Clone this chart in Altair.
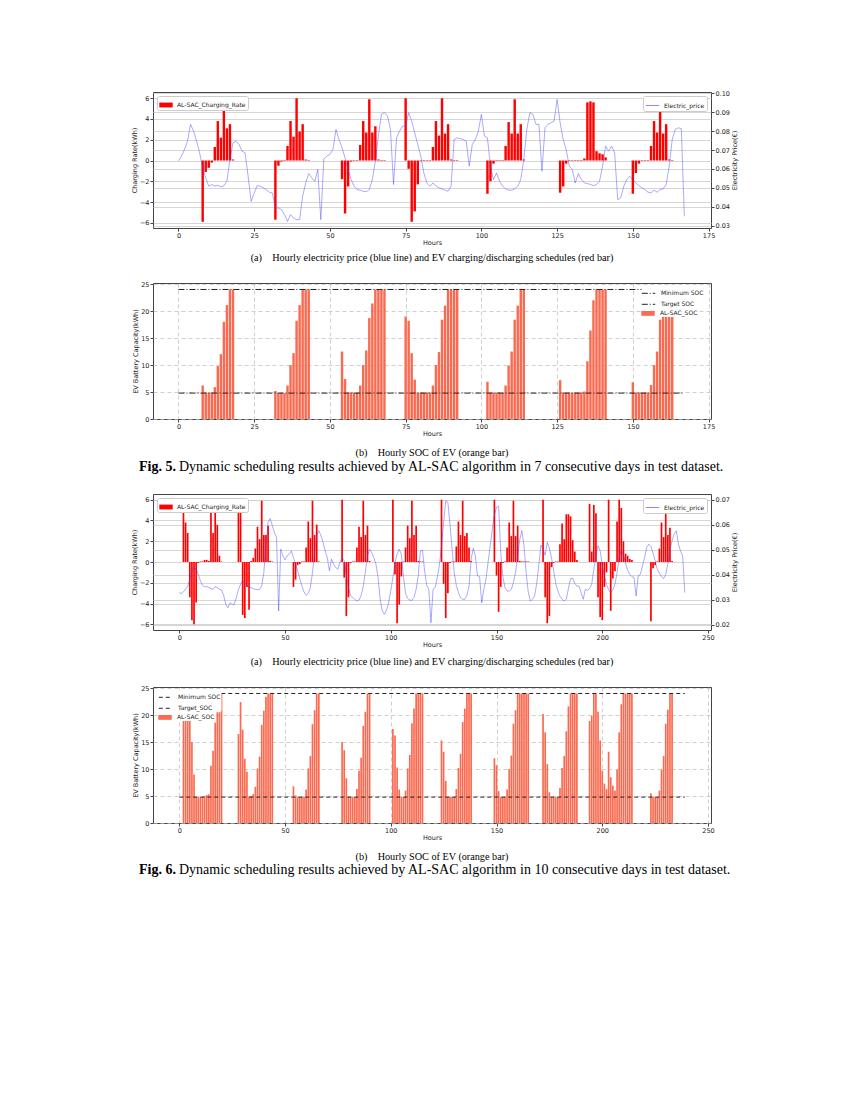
import altair as alt
import pandas as pd

# ---------------- data ----------------
hours_7d = 168
hours_10d = 240
min_soc = 4.8
target_soc = 24.0

# hourly electricity price, 7 days (EUR/kWh)
price_7d = [
    .0643, .0668, .0703, .0747, .0836, .0800, .0747, .0685, .0606, .0553,
    .0509, .0518, .0509, .0514, .0505, .0512, .0535, .0650, .0738, .0747,
    .0730, .0694, .0685, .0562, .0429, .0473, .0512, .0509, .0500, .0491,
    .0477, .0473, .0394, .0394, .0385, .0359, .0323, .0359, .0341, .0332,
    .0332, .0456, .0526, .0576, .0553, .0535, .0597, .0332, .0654, .0668,
    .0677, .0703, .0809, .0756, .0712, .0659, .0597, .0544, .0509, .0491,
    .0488, .0482, .0480, .0491, .0544, .0641, .0774, .0889, .0898, .0880,
    .0809, .0518, .0765, .0800, .0827, .0827, .0898, .0853, .0791, .0730,
    .0668, .0579, .0526, .0509, .0526, .0512, .0500, .0495, .0488, .0482,
    .0509, .0756, .0765, .0760, .0756, .0747, .0615, .0730, .0756, .0800,
    .0889, .0774, .0765, .0615, .0544, .0579, .0535, .0509, .0495, .0488,
    .0488, .0495, .0509, .0544, .0650, .0809, .0898, .0889, .0836, .0836,
    .0588, .0818, .0836, .0845, .0853, .0968, .0845, .0756, .0703, .0615,
    .0597, .0526, .0576, .0544, .0526, .0523, .0518, .0512, .0518, .0535,
    .0615, .0721, .0694, .0721, .0685, .0438, .0447, .0509, .0544, .0562,
    .0544, .0526, .0512, .0500, .0491, .0477, .0473, .0488, .0477, .0491,
    .0495, .0518, .0615, .0756, .0809, .0818, .0813, .0350,
]

# charging rate per connection period, keyed by the arrival hour (kWh)
rate_7d = {
    8: [-5.9, -1.1, -0.7, -0.2, 1.3, 3.8, 2.2, 5.2, 3.1, 3.5, 0.1],
    32: [-5.7, -0.5, -0.1, 0.05, 1.4, 3.8, 2.3, 6.0, 2.8, 3.5, 0.1, 0.05],
    54: [-1.8, -5.1, -2.5, -0.1, 0.05, 0.05, 1.5, 3.8, 2.7, 5.9, 2.7, 3.3, 0.1, 0.05, 0.05],
    75: [6.0, -0.8, -5.9, -4.9, -2.3, -0.05, 0.05, 0.05, 0.05, 1.3, 3.8, 2.4, 6.0, 2.6, 3.5, 0.1, 0.05, 0.05],
    102: [-3.2, -2.0, -0.3, 0.05, 0.05, 0.05, 1.4, 3.7, 2.6, 5.9, 2.6, 3.5, 0.1],
    126: [-3.1, -2.5, -0.3, 0.05, -0.05, 0.05, 0.05, 0.05, 0.2, 5.6, 5.7, 5.6, 0.9, 0.7, 0.6, 0.3],
    150: [-3.2, -1.2, -0.3, 0.05, -0.05, 0.05, 1.4, 3.8, 2.7, 5.2, 2.6, 3.5, 0.1, 0.05],
}
soc_7d = {
    8: [6.2, 4.9, 4.9, 4.9, 5.9, 9.8, 12.0, 18.0, 21.1, 24, 24],
    32: [5.2, 4.8, 4.8, 4.8, 6.2, 10.0, 12.2, 18.2, 21.1, 24, 24, 24],
    54: [12.5, 7.4, 4.9, 4.9, 4.9, 4.9, 6.2, 10.0, 12.7, 18.7, 21.4, 24, 24, 24, 24],
    75: [19.0, 18.2, 12.2, 7.3, 4.9, 4.9, 4.9, 4.9, 4.9, 6.2, 10.0, 12.4, 18.4, 21.0, 24, 24, 24, 24],
    102: [6.9, 4.9, 4.9, 4.9, 4.9, 4.9, 6.2, 9.9, 12.5, 18.4, 21.0, 24, 24],
    126: [7.2, 4.9, 4.9, 4.9, 4.9, 4.9, 4.9, 4.9, 5.1, 10.7, 16.4, 22.0, 24, 24, 24, 24],
    150: [6.8, 4.9, 4.9, 4.9, 4.9, 4.9, 6.3, 10.0, 12.5, 18.4, 21.2, 24, 24, 24],
}

# hourly electricity price, 10 days
price_10d = [
    .0329, .0325, .0332, .0342, .0355, .0382, .0416, .0429, .0423, .0402,
    .0376, .0358, .0352, .0353, .0349, .0345, .0342, .0353, .0349, .0342,
    .0340, .0318, .0282, .0268, .0288, .0282, .0282, .0309, .0342, .0362,
    .0376, .0369, .0358, .0352, .0348, .0345, .0342, .0340, .0342, .0355,
    .0409, .0516, .0610, .0626, .0597, .0570, .0550, .0255, .0503, .0476,
    .0460, .0476, .0483, .0496, .0469, .0443, .0416, .0385, .0355, .0332,
    .0318, .0326, .0349, .0409, .0490, .0557, .0577, .0557, .0530, .0496,
    .0469, .0416, .0463, .0443, .0429, .0423, .0449, .0469, .0456, .0402,
    .0349, .0318, .0309, .0302, .0295, .0299, .0318, .0353, .0412, .0476,
    .0503, .0490, .0469, .0443, .0389, .0302, .0255, .0242, .0259, .0288,
    .0335, .0389, .0449, .0483, .0503, .0483, .0393, .0326, .0305, .0299,
    .0298, .0309, .0342, .0396, .0496, .0499, .0416, .0358, .0342, .0208,
    .0342, .0349, .0389, .0439, .0516, .0610, .0697, .0691, .0604, .0503,
    .0409, .0358, .0329, .0309, .0302, .0302, .0318, .0355, .0463, .0506,
    .0476, .0396, .0393, .0288, .0342, .0382, .0449, .0516, .0583, .0640,
    .0671, .0675, .0490, .0393, .0349, .0335, .0335, .0342, .0369, .0409,
    .0476, .0543, .0577, .0516, .0409, .0332, .0295, .0302, .0315, .0366,
    .0439, .0519, .0503, .0479, .0530, .0506, .0469, .0416, .0366, .0335,
    .0315, .0302, .0295, .0302, .0345, .0385, .0386, .0366, .0355, .0355,
    .0329, .0302, .0342, .0338, .0345, .0362, .0423, .0476, .0516, .0496,
    .0439, .0393, .0362, .0340, .0329, .0340, .0362, .0409, .0469, .0503,
    .0476, .0447, .0419, .0402, .0393, .0389, .0315, .0396, .0402, .0436,
    .0469, .0510, .0523, .0514, .0487, .0456, .0423, .0407, .0393, .0385,
    .0402, .0443, .0496, .0537, .0563, .0577, .0523, .0496, .0476, .0329,
]

rate_10d = {
    2: [5.2, 3.8, 2.8, -3.4, -5.6, -6.0, -3.9, -0.1, 0.05, 0.05, 0.2, 0.2, 0.1, 5.3, 2.8, 5.2, 3.6, 0.6, 0.05],
    28: [6.0, 5.9, -5.1, -5.4, -2.4, -4.6, 0.1, 0.4, 1.3, 3.4, 2.2, 5.9, 2.6, 2.6, 3.5, 0.1, 0.05],
    54: [-2.4, -1.7, -0.3, -0.2, 0.05, 0.05, 1.4, 3.9, 2.3, 5.9, 2.6, 3.6, 0.05],
    77: [6.0, -1.5, -5.2, -3.4, -0.1, 0.05, 0.05, 1.4, 3.4, 2.4, 5.9, 2.6, 3.5, 0.1],
    101: [6.0, -1.2, -5.9, -4.1, -1.4, 0.05, 1.4, 3.5, 2.3, 5.9, 2.6, 3.5, 0.1, 0.05, 0.05],
    124: [6.0, -2.1, -5.4, -3.0, -0.1, 0.05, 0.05, 1.5, 3.9, 2.6, 5.9, 2.5, 2.8, 1.4, 0.1],
    149: [6.0, -1.3, -4.8, -2.4, -0.1, 0.05, 1.4, 3.8, 2.5, 5.9, 2.5, 3.5, 0.1, 0.05, 0.05, 0.05, 0.05],
    172: [6.0, -3.4, -5.9, -5.2, -0.5, -0.1, 0.05, 0.05, 1.7, 3.7, 2.2, 4.6, 4.6, 4.4, 2.1, 1.0, 0.2],
    194: [5.6, 1.0, 5.5, 4.7, -3.4, -5.3, -5.6, -2.4, -1.0, 6.0, -4.7, -1.6, -0.9, 3.9, 6.0, 5.2, 2.0, 0.8, 0.6, 0.3, 0.2],
    223: [-5.7, -0.6, -0.3, 0.05, 1.3, 3.8, 2.4, 5.4, 2.6, 3.3, 0.1],
}
soc_10d = {
    2: [24, 24, 24, 20.6, 15.0, 9.0, 4.8, 4.8, 4.8, 4.8, 5.0, 5.2, 5.3, 10.6, 13.4, 18.6, 22.2, 24, 24],
    28: [16.5, 22.4, 17.3, 11.9, 9.5, 4.9, 5.0, 5.4, 6.7, 10.1, 12.3, 18.2, 20.8, 23.4, 24, 24, 24],
    54: [6.8, 5.1, 4.8, 4.8, 4.8, 4.8, 6.2, 10.1, 12.4, 18.3, 20.9, 24, 24],
    77: [15.0, 13.5, 8.3, 4.9, 4.8, 4.8, 4.8, 6.3, 9.7, 12.1, 18.0, 20.6, 24, 24],
    101: [17.4, 16.2, 10.3, 6.2, 4.8, 4.8, 6.0, 10.1, 12.6, 18.5, 21.2, 24, 24, 24, 24],
    124: [15.3, 13.2, 7.8, 4.8, 4.8, 4.8, 4.8, 6.3, 10.2, 12.8, 18.7, 21.2, 24, 24, 24],
    149: [12.0, 10.7, 5.9, 4.8, 4.8, 4.8, 6.2, 10.0, 12.5, 18.4, 20.9, 24, 24, 24, 24, 24, 24],
    172: [20.2, 16.8, 10.9, 5.7, 4.8, 4.8, 4.8, 4.8, 6.5, 10.2, 12.4, 17.0, 21.6, 24, 24, 24, 24],
    194: [18.9, 19.9, 24, 24, 20.6, 15.3, 9.7, 7.3, 6.3, 13.2, 8.5, 6.9, 6.0, 9.9, 16.8, 22.0, 24, 24, 24, 24, 24],
    223: [5.5, 4.8, 4.8, 4.8, 6.0, 9.9, 12.4, 18.4, 21.0, 24, 24],
}

x_ticks_7d = [0, 25, 50, 75, 100, 125, 150, 175]
x_ticks_10d = [0, 50, 100, 150, 200, 250]
rate_ticks = [-6, -4, -2, 0, 2, 4, 6]
price_ticks_7d = [0.03, 0.04, 0.05, 0.06, 0.07, 0.08, 0.09, 0.10]
price_ticks_10d = [0.02, 0.03, 0.04, 0.05, 0.06, 0.07]
soc_ticks = [0, 5, 10, 15, 20, 25]

cap_a = "(a)\u00a0\u00a0\u00a0\u00a0Hourly electricity price (blue line) and EV charging/discharging schedules (red bar)"
cap_b = "(b)\u00a0\u00a0\u00a0\u00a0Hourly SOC of EV (orange bar)"
fig5_bold, fig5_text = "Fig. 5.", "Dynamic scheduling results achieved by AL-SAC algorithm in 7 consecutive days in test dataset."
fig6_bold, fig6_text = "Fig. 6.", "Dynamic scheduling results achieved by AL-SAC algorithm in 10 consecutive days in test dataset."

# ---------------- styling ----------------
W, H = 558, 136
FONT = "DejaVu Sans"
SERIF = "Liberation Serif"
RED = "#ff0000"
BLUE = "#3c3cff"
SOC_COLOR = "#fb6a50"
LINE_COLOR = "#222222"
RECT = "M-1,-0.36L1,-0.36L1,0.36L-1,0.36Z"
FS = 6.5


def expand(segments, n):
    arr = [None] * n
    for start, vals in segments.items():
        for i, v in enumerate(vals):
            arr[start + i] = v
    return arr


def leg(orient, **kw):
    base = dict(orient=orient, title=None, labelFont=FONT, labelFontSize=6, labelColor="#222",
                fillColor="white", strokeColor="#cccccc", padding=2, offset=4,
                cornerRadius=2, rowPadding=-4)
    base.update(kw)
    return alt.Legend(**base)


def x_axis(ticks, grid):
    kw = dict(values=ticks, title="Hours", labelFontSize=FS, titleFontSize=FS,
              tickSize=3, labelPadding=1, titlePadding=1, grid=grid)
    if grid:
        kw.update(gridDash=[4, 3], gridColor="#bbbbbb", gridWidth=0.7)
    return alt.Axis(**kw)


def rate_panel(price, rate_segs, n, xdom, xticks, rdom, pdom, pticks):
    df = pd.DataFrame({"hour": list(range(n)), "price": price, "rate": expand(rate_segs, n)})
    df["rate_lab"] = "AL-SAC_Charging_Rate"
    df["price_lab"] = "Electric_price"
    xs = alt.Scale(domain=xdom, nice=False, zero=False)
    bars = alt.Chart(df).transform_calculate(
        x0="datum.hour - 0.4", x1="datum.hour + 0.4"
    ).mark_bar(opacity=1).encode(
        x=alt.X("x0:Q", scale=xs, axis=x_axis(xticks, False)),
        x2="x1:Q",
        y=alt.Y("rate:Q", scale=alt.Scale(domain=rdom, nice=False, zero=False),
                axis=alt.Axis(values=rate_ticks, title="Charging Rate(kWh)", grid=True,
                              gridColor="#cccccc", gridWidth=0.8, labelFontSize=FS,
                              titleFontSize=FS, tickSize=3, labelPadding=1, titlePadding=2)),
        y2=alt.datum(0),
        color=alt.Color("rate_lab:N", scale=alt.Scale(range=[RED]),
                        legend=leg("top-left", symbolType=RECT, symbolSize=180,
                                   symbolStrokeWidth=0)),
    )
    line = alt.Chart(df).mark_line(strokeWidth=0.8, opacity=0.55).encode(
        x=alt.X("hour:Q", scale=xs, axis=x_axis(xticks, False)),
        y=alt.Y("price:Q", scale=alt.Scale(domain=pdom, nice=False, zero=False),
                axis=alt.Axis(orient="right", values=pticks, format=".2f",
                              title="Electricity Price(€)", grid=True, gridColor="#cccccc",
                              gridWidth=0.8, labelFontSize=FS, titleFontSize=FS, tickSize=3,
                              labelPadding=1, titlePadding=2, titleAngle=270,
                              titleBaseline="top")),
        stroke=alt.Stroke("price_lab:N", scale=alt.Scale(range=[BLUE]),
                          legend=leg("top-right", symbolType="stroke", symbolSize=180,
                                     symbolStrokeWidth=1, symbolOpacity=0.6)),
    )
    return alt.layer(bars, line).resolve_scale(y="independent").properties(width=W, height=H)


def soc_panel(soc_segs, n, xdom, xticks, leg_x, line_labels, dash):
    df = pd.DataFrame({"hour": list(range(n)), "soc": expand(soc_segs, n)})
    df["soc_lab"] = "AL-SAC_SOC"
    xs = alt.Scale(domain=xdom, nice=False, zero=False)
    ys = alt.Scale(domain=[0, 25.2], nice=False, zero=False)
    yaxis = alt.Axis(values=soc_ticks, title="EV Battery Capacity(kWh)", grid=True,
                     gridDash=[4, 3], gridColor="#bbbbbb", gridWidth=0.7, labelFontSize=FS,
                     titleFontSize=FS, tickSize=3, labelPadding=1, titlePadding=2)
    bars = alt.Chart(df).transform_calculate(
        x0="datum.hour - 0.4", x1="datum.hour + 0.4"
    ).mark_bar().encode(
        x=alt.X("x0:Q", scale=xs, axis=x_axis(xticks, True)),
        x2="x1:Q",
        y=alt.Y("soc:Q", scale=ys, axis=yaxis),
        y2=alt.datum(0),
        fill=alt.Fill("soc_lab:N", scale=alt.Scale(range=[SOC_COLOR]),
                      legend=leg("none", legendX=leg_x, legendY=23.4, padding=0,
                                 symbolType=RECT, symbolSize=180, symbolStrokeWidth=0,
                                 strokeColor="transparent", labelOffset=5, zindex=1)),
    )
    lines_df = pd.DataFrame({
        "name": line_labels,
        "level": [min_soc, target_soc],
        "start": [0, 0],
        "end": [n - 1, n - 1],
    })
    rules = alt.Chart(lines_df).mark_rule(strokeDash=dash, strokeWidth=1).encode(
        x=alt.X("start:Q", scale=xs, axis=x_axis(xticks, True)),
        x2="end:Q",
        y=alt.Y("level:Q", scale=ys, axis=yaxis),
        color=alt.Color("name:N", sort=line_labels,
                        scale=alt.Scale(domain=line_labels, range=[LINE_COLOR, LINE_COLOR]),
                        legend=leg("none", legendX=leg_x, legendY=2.8, padding=0,
                                   rowPadding=-5.6, symbolType="stroke", symbolSize=180,
                                   symbolStrokeWidth=1, symbolDash=dash,
                                   strokeColor="transparent", labelOffset=5, zindex=2)),
    )
    return alt.layer(bars, rules).properties(width=W, height=H)


def text_block(items, height):
    layers = []
    for text, x, y, align, size, weight in items:
        layers.append(
            alt.Chart(pd.DataFrame({"t": [text]})).mark_text(
                align=align, baseline="middle", font=SERIF, fontSize=size,
                fontWeight=weight, color="black"
            ).encode(text="t:N", x=alt.value(x), y=alt.value(y))
        )
    return alt.layer(*layers).properties(
        width=W, height=height, view=alt.ViewBackground(stroke="transparent"))


xdom7 = [-8.4, 175.8]
xdom10 = [-12.4, 251.4]

p1 = rate_panel(price_7d, rate_7d, hours_7d, xdom7, x_ticks_7d, [-6.5, 6.6],
                [0.0288, 0.1007], price_ticks_7d)
t1 = text_block([(cap_a, W / 2, 10, "center", 10.2, "normal")], 31)
p2 = soc_panel(soc_7d, hours_7d, xdom7, x_ticks_7d, 488,
               ["Minimum SOC", "Target SOC"], [6, 2, 1, 2])
t2 = text_block([(cap_b, W / 2, 14, "center", 10.2, "normal"),
                 (fig5_bold, 23, 28, "right", 14, "bold"),
                 (fig5_text, 26, 28, "left", 14, "normal")], 53)
p3 = rate_panel(price_10d, rate_10d, hours_10d, xdom10, x_ticks_10d, [-6.55, 6.55],
                [0.0179, 0.0724], price_ticks_10d)
t3 = text_block([(cap_a, W / 2, 12, "center", 10.2, "normal")], 33)
p4 = soc_panel(soc_10d, hours_10d, xdom10, x_ticks_10d, 5,
               ["Minimum SOC", "Target_SOC"], [4, 3])
t4 = text_block([(cap_b, W / 2, 14, "center", 10.2, "normal"),
                 (fig6_bold, 23, 27, "right", 14, "bold"),
                 (fig6_text, 26, 27, "left", 14, "normal")], 38)

chart = alt.vconcat(p1, t1, p2, t2, p3, t3, p4, t4, spacing=0).resolve_scale(
    color="independent", stroke="independent", fill="independent"
).resolve_legend(
    color="independent", stroke="independent", fill="independent"
).properties(
    padding={"left": 122, "top": 81, "right": 5, "bottom": 5},
    background="white",
).configure_view(
    stroke="#444444", strokeWidth=1
).configure_axis(
    labelFont=FONT, titleFont=FONT, labelColor="#222222", titleColor="#222222",
    tickColor="#444444", domain=False, titleFontWeight="normal"
)

chart.save("out.html", embed_options={"renderer": "svg", "actions": False})
